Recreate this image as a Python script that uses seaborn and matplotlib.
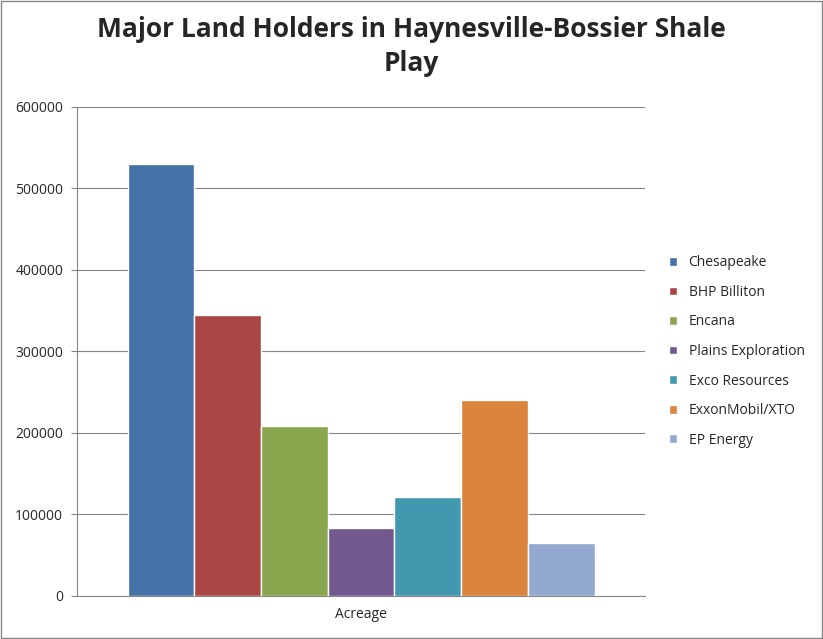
import matplotlib
matplotlib.use("Agg")
import matplotlib.pyplot as plt
import seaborn as sns
import pandas as pd

companies = ["Chesapeake", "BHP Billiton", "Encana", "Plains Exploration",
             "Exco Resources", "ExxonMobil/XTO", "EP Energy"]
acreage = [530000, 345000, 208000, 83000, 122000, 240000, 65000]
category = ["Acreage"] * len(companies)
colors = ["#4572A7", "#AA4643", "#89A54E", "#71588F", "#4198AF", "#DB843D", "#93A9CF"]

df = pd.DataFrame({"cat": category, "company": companies, "value": acreage})

sns.set_style("white")
plt.rcParams["font.family"] = ["Open Sans", "DejaVu Sans"]

fig = plt.figure(figsize=(8.23, 6.39), dpi=100)
ax = fig.add_axes([0.0936, 0.0673, 0.6904, 0.7653])
sns.barplot(data=df, x="cat", y="value", hue="company", palette=colors,
            width=0.822, saturation=1, ax=ax, dodge=True)
ax.set_ylim(0, 600000)
ax.set_xlim(-0.5, 0.5)
ax.set_yticks(range(0, 600001, 100000))
ax.tick_params(axis="y", labelsize=10, length=4, color="#868686", left=True, pad=6)
ax.tick_params(axis="x", labelsize=10, length=0, pad=8)
ax.yaxis.grid(True, color="#868686", linewidth=0.8)
ax.set_axisbelow(True)
for s in ["top", "right"]:
    ax.spines[s].set_visible(False)
for s in ["left", "bottom"]:
    ax.spines[s].set_color("#868686")
ax.set_xlabel("")
ax.set_ylabel("")
ax.legend(loc="center left", bbox_to_anchor=(1.02, 0.5), frameon=False,
          fontsize=10, handlelength=0.6, handleheight=0.6, labelspacing=1.05)
fig.suptitle("Major Land Holders in Haynesville-Bossier Shale\nPlay", x=0.5, y=0.975,
             fontsize=19, fontweight="bold", linespacing=1.35)
fig.patches.append(plt.Rectangle((0.001, 0.001), 0.998, 0.998, transform=fig.transFigure,
                                 fill=False, edgecolor="#868686", linewidth=1))
fig.savefig("out.png", dpi=100)
